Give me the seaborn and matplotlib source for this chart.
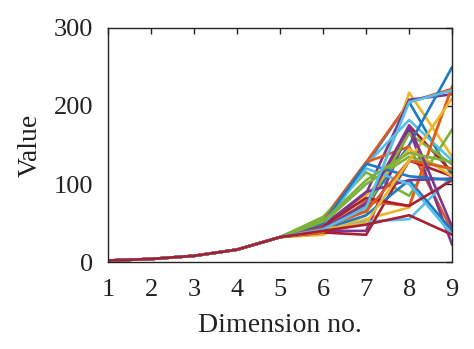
import matplotlib
matplotlib.use("Agg")
import matplotlib.pyplot as plt
import seaborn as sns
import pandas as pd

dims = [1, 2, 3, 4, 5, 6, 7, 8, 9]
base = [2, 4, 8, 16, 32]
# values at dimensions 6..9 for each series
d6 = [48, 55, 35, 44, 58, 45, 50,
      45, 52, 37, 40, 55, 40, 38,
      42, 38, 40, 47, 50, 48, 46,
      50, 44, 42, 43, 52, 42, 40]
d7 = [125, 128, 60, 88, 115, 125, 65,
      72, 128, 55, 40, 70, 52, 35,
      60, 78, 85, 90, 100, 120, 82,
      126, 65, 50, 75, 105, 70, 48]
d8 = [205, 205, 217, 208, 85, 182, 175,
      150, 148, 70, 170, 165, 55, 130,
      105, 72, 145, 105, 135, 100, 72,
      110, 130, 130, 175, 140, 205, 60]
d9 = [110, 222, 135, 215, 170, 130, 115,
      250, 40, 225, 22, 125, 110, 110,
      40, 225, 110, 107, 118, 35, 105,
      105, 120, 210, 45, 128, 220, 35]

palette = ["#1f7ac4", "#dd5a22", "#eab52a", "#7d3690",
           "#7cb23a", "#55bfe8", "#a81e34"]

rows = []
for i in range(len(d6)):
    vals = base + [d6[i], d7[i], d8[i], d9[i]]
    for x, v in zip(dims, vals):
        rows.append({"series": i, "dim": x, "value": v})
df = pd.DataFrame(rows)
colors = [palette[i % 7] for i in range(len(d6))]

sns.set_style("white")
plt.rcParams["font.family"] = ["Liberation Serif", "DejaVu Serif"]

fig = plt.figure(figsize=(4.74, 3.49), dpi=100)
ax = fig.add_axes([0.228, 0.249, 0.726, 0.671])
sns.lineplot(data=df, x="dim", y="value", hue="series", palette=colors,
             legend=False, ax=ax, linewidth=1.9, estimator=None, sort=False)

ax.set_xlim(1, 9)
ax.set_ylim(0, 300)
ax.set_xticks(dims)
ax.set_yticks([0, 100, 200, 300])
ax.tick_params(direction="in", length=4, width=1, top=True, right=True,
               labelsize=19, colors="#222222")
ax.tick_params(axis="x", pad=12)
ax.tick_params(axis="y", pad=10.5)
for s in ax.spines.values():
    s.set_visible(True)
    s.set_color("#222222")
    s.set_linewidth(1.0)
ax.set_xlabel("Dimension no.", fontsize=20, color="#222222", labelpad=9)
ax.set_ylabel("Value", fontsize=20, color="#222222", labelpad=8)

fig.savefig("out.png", dpi=100)
